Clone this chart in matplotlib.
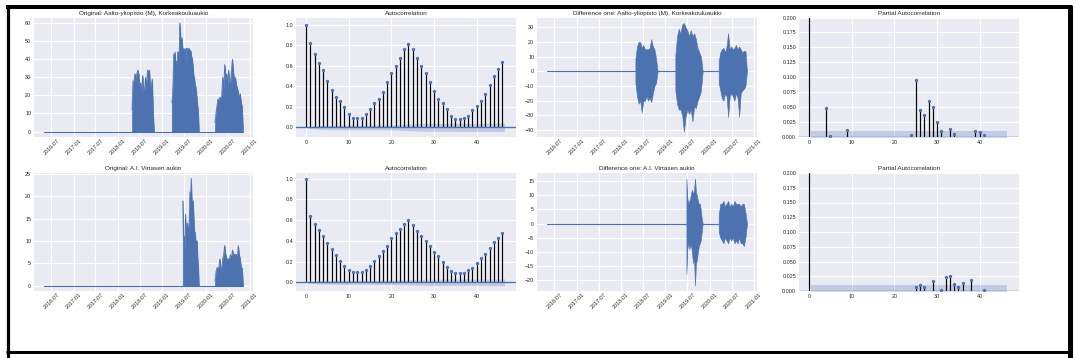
import matplotlib
matplotlib.use("Agg")
import matplotlib.pyplot as plt
import matplotlib.dates as mdates
import matplotlib.ticker as mticker
from matplotlib.lines import Line2D
import numpy as np
import pandas as pd
import seaborn as sns

sns.set_style("darkgrid")
plt.rcParams["font.family"] = ["Liberation Sans", "DejaVu Sans"]

# ---------------- data ----------------
SERIES_START = "2016-05-01"
SERIES_END = "2020-11-03"
N_OBS = 39528  # hourly observations

title_aalto = "Aalto-yliopisto (M), Korkeakouluaukio"
title_virtanen = "A.I. Virtasen aukio"

# active periods (start, end)
aalto_periods = [("2018-04-29", "2018-10-29"), ("2019-03-24", "2019-11-04"), ("2020-03-15", "2020-11-03")]
virtanen_periods = [("2019-06-23", "2019-11-04"), ("2020-03-15", "2020-11-03")]

# envelope (peak level) of the original hourly series, evenly spread over each period
aalto_peak_2018 = [12, 28, 28, 32, 29, 32, 34, 32, 24, 27, 21, 31, 24, 22, 30, 24, 34, 33, 34, 25, 25, 29, 10, 0]
aalto_peak_2019 = [16, 19, 29, 43, 40, 44, 37, 39, 35, 44, 44, 38, 60, 55, 46, 52, 48, 41, 46, 43, 46, 39,
                   46, 45, 46, 45, 46, 44, 45, 44, 41, 40, 36, 31, 30, 26, 25, 22, 18, 14, 10, 0]
aalto_peak_2020 = [5, 10, 14, 18, 17, 19, 18, 20, 30, 24, 37, 29, 32, 25, 34, 27, 27, 34, 40, 33, 28, 30,
                   26, 24, 22, 18, 21, 16, 14, 0]
virtanen_peak_2019 = [19, 11, 11, 8, 16, 13, 13, 14, 13, 12, 15, 21, 19, 24, 19, 19, 19, 15, 12, 12, 10, 10,
                      10, 6, 4, 0]
virtanen_peak_2020 = [1, 3, 4, 4, 4, 6, 4, 4, 6, 7, 9, 7, 6, 6, 6, 6, 7, 6, 8, 7, 7, 7, 7, 6, 9, 7, 6, 4, 4, 0]

# envelope of the first difference (upper / lower)
aalto_diff_up_2018 = [9, 17, 20, 20, 16, 18, 15, 15, 15, 16, 22, 17, 15, 9, 0]
aalto_diff_lo_2018 = [-8, -17, -22, -20, -28, -20, -20, -17, -20, -18, -21, -15, -10, -8, 0]
aalto_diff_up_2019 = [11, 24, 29, 26, 32, 33, 30, 28, 24, 28, 24, 26, 22, 16, 13, 10, 0]
aalto_diff_lo_2019 = [-13, -22, -26, -26, -30, -41, -31, -26, -29, -26, -34, -24, -25, -20, -17, -13, 0]
aalto_diff_up_2020 = [7, 13, 15, 16, 13, 17, 26, 15, 17, 15, 16, 18, 15, 17, 15, 13, 14, 14, 0]
aalto_diff_lo_2020 = [-8, -13, -18, -20, -15, -17, -31, -17, -15, -17, -20, -15, -18, -31, -15, -13, -12, -10, 0]
virtanen_diff_up_2019 = [16, 9, 7, 8, 9, 11, 12, 10, 12, 16, 11, 10, 8, 7, 7, 5, 2, 0]
virtanen_diff_lo_2019 = [-18, -9, -7, -9, -8, -8, -11, -14, -13, -22, -14, -13, -10, -8, -7, -6, -3, 0]
virtanen_diff_up_2020 = [3, 7, 7, 8, 6, 7, 8, 6, 7, 6, 8, 7, 7, 7, 6, 7, 7, 4, 0]
virtanen_diff_lo_2020 = [-3, -5, -6, -7, -5, -6, -7, -5, -6, -5, -7, -6, -7, -5, -7, -7, -8, -5, 0]

# autocorrelation, lags 0..46
aalto_acf = [1.0, 0.825, 0.718, 0.628, 0.557, 0.453, 0.362, 0.298, 0.256, 0.197, 0.129, 0.094, 0.087,
             0.094, 0.126, 0.181, 0.236, 0.275, 0.346, 0.437, 0.527, 0.602, 0.680, 0.764, 0.816, 0.764,
             0.680, 0.602, 0.527, 0.437, 0.350, 0.278, 0.233, 0.175, 0.113, 0.084, 0.078, 0.087, 0.110,
             0.165, 0.207, 0.259, 0.320, 0.411, 0.498, 0.573, 0.638]
virtanen_acf = [1.0, 0.643, 0.559, 0.502, 0.444, 0.376, 0.322, 0.261, 0.209, 0.154, 0.119, 0.103, 0.100,
                0.103, 0.122, 0.161, 0.209, 0.254, 0.305, 0.354, 0.424, 0.479, 0.511, 0.566, 0.601, 0.550,
                0.492, 0.450, 0.399, 0.354, 0.289, 0.251, 0.196, 0.145, 0.109, 0.090, 0.087, 0.093, 0.119,
                0.141, 0.186, 0.238, 0.277, 0.328, 0.392, 0.424, 0.473]

# partial autocorrelation (visible, positive lags only)
aalto_pacf_lags = [0, 4, 5, 9, 24, 25, 26, 27, 28, 29, 30, 31, 33, 34, 39, 40, 41]
aalto_pacf_vals = [1.0, 0.048, 0.001, 0.011, 0.004, 0.096, 0.046, 0.037, 0.061, 0.050, 0.025, 0.010,
                   0.013, 0.005, 0.010, 0.008, 0.003]
virtanen_pacf_lags = [0, 25, 26, 27, 29, 31, 32, 33, 34, 35, 36, 38, 41]
virtanen_pacf_vals = [1.0, 0.007, 0.010, 0.0075, 0.017, 0.002, 0.024, 0.0246, 0.0126, 0.007, 0.013,
                      0.018, 0.001]
N_LAGS = 46

# ---------------- drawing ----------------
C0 = "#4C72B0"
W, H = 1076, 358
fig = plt.figure(figsize=(W / 100, H / 100), dpi=100)
fig.patch.set_facecolor("white")

TITLE_FS = 4.6
TICK_FS = 3.9


def add_axes(x0, x1, y0, y1):
    ax = fig.add_axes([x0 / W, 1 - y1 / H, (x1 - x0) / W, (y1 - y0) / H])
    ax.tick_params(labelsize=TICK_FS, pad=2, length=0, colors=".15")
    for sp in ax.spines.values():
        sp.set_visible(False)
    ax.grid(True, color="white", lw=0.8)
    return ax


def style_dates(ax):
    ax.xaxis.set_major_locator(mdates.MonthLocator(bymonth=[1, 7]))
    ax.xaxis.set_major_formatter(mdates.DateFormatter("%Y-%m"))
    for lab in ax.get_xticklabels():
        lab.set_rotation(45)
        lab.set_ha("center")
    ax.tick_params(axis="x", pad=1)


def draw_original(ax, periods, peaks, title, ystep):
    ax.plot(pd.to_datetime([SERIES_START, SERIES_END]), [0, 0], color=C0, lw=0.8)
    for (s, e), env in zip(periods, peaks):
        d = pd.date_range(s, e, periods=len(env))
        ax.fill_between(d, 0, env, color=C0, lw=0.4)
        ax.plot(d, env, color=C0, lw=0.5)
    ax.set_title("Original: " + title, fontsize=TITLE_FS, color=".15", pad=2)
    ax.yaxis.set_major_locator(mticker.MultipleLocator(ystep))
    style_dates(ax)


def draw_diff(ax, periods, ups, los, title, ystep):
    ax.plot(pd.to_datetime([SERIES_START, SERIES_END]), [0, 0], color=C0, lw=0.8)
    for (s, e), up, lo in zip(periods, ups, los):
        d = pd.date_range(s, e, periods=len(up))
        ax.fill_between(d, lo, up, color=C0, lw=0.4)
    ax.set_title("Difference one: " + title, fontsize=TITLE_FS, color=".15", pad=2)
    ax.yaxis.set_major_locator(mticker.MultipleLocator(ystep))
    style_dates(ax)


def draw_acf(ax, acf, ylim):
    acf = np.asarray(acf)
    lags = np.arange(len(acf))
    ax.vlines(lags, 0, acf, colors="k", lw=0.85)
    ax.plot(lags, acf, "o", color=C0, ms=2.4, mew=0)
    ax.axhline(0, color=C0, lw=1.0)
    cs = np.concatenate([[0.0], np.cumsum(acf[1:-1] ** 2)])
    half = 1.96 * np.sqrt((1 + 2 * cs) / N_OBS)
    bl = lags[1:].astype(float)
    bl[0] -= 0.5
    bl[-1] += 0.5
    ax.fill_between(bl, -half, half, color=C0, alpha=0.25, lw=0)
    ax.set_xlim(-2.35, 49.2)
    ax.set_ylim(*ylim)
    ax.xaxis.set_major_locator(mticker.MultipleLocator(10))
    ax.yaxis.set_major_locator(mticker.MultipleLocator(0.2))
    ax.yaxis.set_major_formatter(mticker.FormatStrFormatter("%.1f"))
    ax.set_title("Autocorrelation", fontsize=TITLE_FS, color=".15", pad=2)


def draw_pacf(ax, lags, vals):
    ax.vlines(lags, 0, vals, colors="k", lw=0.85)
    ax.plot(lags, vals, "o", color=C0, ms=2.4, mew=0)
    ax.axhline(0, color=C0, lw=1.0)
    half = 1.96 / np.sqrt(N_OBS)
    bl = np.arange(1, N_LAGS + 1).astype(float)
    bl[0] -= 0.5
    bl[-1] += 0.5
    ax.fill_between(bl, -half, half, color=C0, alpha=0.25, lw=0)
    ax.set_xlim(-2.35, 49.2)
    ax.set_ylim(0, 0.2)
    ax.xaxis.set_major_locator(mticker.MultipleLocator(10))
    ax.yaxis.set_major_locator(mticker.MultipleLocator(0.025))
    ax.yaxis.set_major_formatter(mticker.FormatStrFormatter("%.3f"))
    ax.set_title("Partial Autocorrelation", fontsize=TITLE_FS, color=".15", pad=2)


cols = [(34, 253), (296, 516), (537, 757), (799, 1019)]
rows = [(17.5, 137), (173, 291)]

# row 1
ax = add_axes(*cols[0], *rows[0])
draw_original(ax, aalto_periods, [aalto_peak_2018, aalto_peak_2019, aalto_peak_2020], title_aalto, 10)
ax = add_axes(*cols[1], *rows[0])
draw_acf(ax, aalto_acf, (-0.094, 1.07))
ax = add_axes(*cols[2], *rows[0])
draw_diff(ax, aalto_periods,
          [aalto_diff_up_2018, aalto_diff_up_2019, aalto_diff_up_2020],
          [aalto_diff_lo_2018, aalto_diff_lo_2019, aalto_diff_lo_2020], title_aalto, 10)
ax = add_axes(*cols[3], *rows[0])
draw_pacf(ax, aalto_pacf_lags, aalto_pacf_vals)

# row 2
ax = add_axes(*cols[0], *rows[1])
draw_original(ax, virtanen_periods, [virtanen_peak_2019, virtanen_peak_2020], title_virtanen, 5)
ax = add_axes(*cols[1], *rows[1])
draw_acf(ax, virtanen_acf, (-0.084, 1.055))
ax = add_axes(*cols[2], *rows[1])
draw_diff(ax, virtanen_periods,
          [virtanen_diff_up_2019, virtanen_diff_up_2020],
          [virtanen_diff_lo_2019, virtanen_diff_lo_2020], title_virtanen, 5)
ax = add_axes(*cols[3], *rows[1])
draw_pacf(ax, virtanen_pacf_lags, virtanen_pacf_vals)


# ---------------- screenshot frame ----------------
def fig_line(xs, ys, width_px):
    fig.add_artist(Line2D([x / W for x in xs], [1 - y / H for y in ys], transform=fig.transFigure,
                          color="black", lw=width_px * 72 / 100, solid_capstyle="butt"))


fig_line([6, 1072], [7, 7], 4)          # top
fig_line([7.5, 7.5], [5, 358], 3.2)     # left
fig_line([1069.5, 1069.5], [5, 358], 5)  # right
fig_line([6, 1072], [351.5, 351.5], 3)  # divider

fig.savefig("out.png", dpi=100, facecolor="white")
